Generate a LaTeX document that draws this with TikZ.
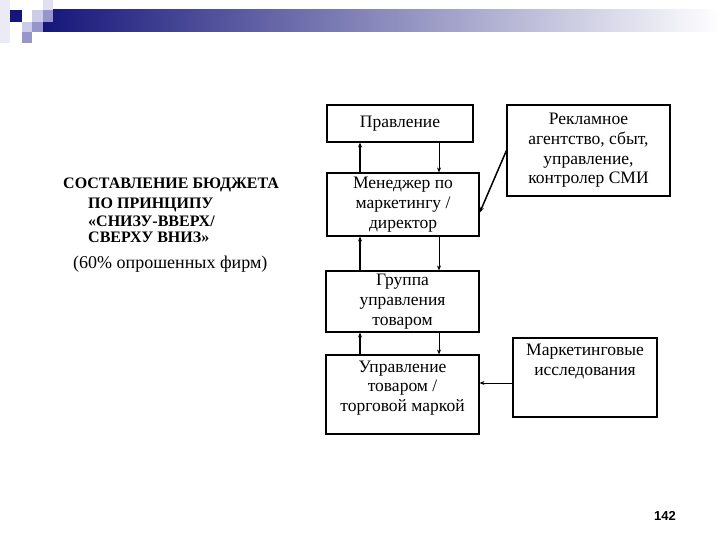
\documentclass[tikz,border=0pt]{standalone}
\usepackage{fontspec}
\setmainfont{Liberation Serif}
\newfontfamily\boxfont{Liberation Serif}
\newfontfamily\numfont{Liberation Sans}
\usepackage{xcolor}
\usetikzlibrary{arrows.meta, calc}

\definecolor{navyblue}{RGB}{22,22,122}
\definecolor{lightlav}{RGB}{204,204,232}
\definecolor{midlav}{RGB}{150,150,204}

\begin{document}
\begin{tikzpicture}[
    x=1pt, y=-1pt,
    block/.style={rectangle, draw, line width=1.1pt, inner sep=0pt, align=center, font=\boxfont\fontsize{17.5}{19.7}\selectfont},
    heading/.style={anchor=base west, inner sep=0pt, font=\bfseries\fontsize{16}{18}\selectfont},
    note/.style={anchor=base west, inner sep=0pt, font=\boxfont\fontsize{18}{19.7}\selectfont},
    up/.style={-{Stealth[length=5pt,width=4pt]}, line width=2pt},
    down/.style={-{Stealth[length=5pt,width=4pt]}, line width=0.9pt},
    slant/.style={-{Stealth[length=6pt,width=4pt]}, line width=1.5pt}
]
    \useasboundingbox (0,0) rectangle (720,540);

    % header bar
    \fill[lightlav!40] (0,0) rectangle (10,43);
    \shade[left color=navyblue, right color=white] (43,10) rectangle (720,32);
    \fill[navyblue] (10,10) rectangle (22,22);
    \fill[lightlav!60] (43,0) rectangle (53,10);
    \fill[lightlav] (32,10) rectangle (43,22);
    \fill[midlav] (43,10) rectangle (53,22);
    \fill[lightlav] (22,22) rectangle (32,32);
    \fill[midlav] (32,22) rectangle (43,32);
    \fill[midlav] (22,32) rectangle (32,43);

    % left caption
    \node[heading] (title1) at (63,189) {СОСТАВЛЕНИЕ БЮДЖЕТА};
    \node[heading] (title2) at (88,208) {ПО ПРИНЦИПУ};
    \node[heading] (title3) at (88,226) {«СНИЗУ-ВВЕРХ/};
    \node[heading] (title4) at (88,243) {СВЕРХУ ВНИЗ»};
    \node[note] (survey) at (73,268) {(60\% опрошенных фирм)};

    % blocks
    \node[block, minimum width=146, minimum height=37] (pravl) at (400,123.5) {Правление};
    \node[block, minimum width=152, minimum height=63] (manager) at (403,204.5) {Менеджер по\\маркетингу /\\директор};
    \node[block, minimum width=163, minimum height=91] (reklama) at (588.5,150.5) {Рекламное\\агентство, сбыт,\\управление,\\контролер СМИ};
    \node[block, minimum width=153, minimum height=61] (gruppa) at (402.5,301.5) {Группа\\управления\\товаром};
    \node[block, minimum width=153, minimum height=79, text depth=17pt] (upravl) at (402.5,394.5) {Управление\\товаром /\\торговой маркой};
    \node[block, minimum width=144, minimum height=79, text depth=36pt] (issled) at (585,377.5) {Маркетинговые\\исследования};

    \coordinate (lx) at (360,0);
    \coordinate (rx) at (439,0);

    % links
    \draw[up] (manager.north -| lx) -- (pravl.south -| lx);
    \draw[down] (pravl.south -| rx) -- (manager.north -| rx);
    \draw[up] (gruppa.north -| lx) -- (manager.south -| lx);
    \draw[down] (manager.south -| rx) -- (gruppa.north -| rx);
    \draw[up] (upravl.north -| lx) -- (gruppa.south -| lx);
    \draw[down] (gruppa.south -| rx) -- (upravl.north -| rx);
    \draw[slant] (reklama.west) -- ([yshift=-8.5pt]manager.east);
    \draw[down] ([yshift=-5.5pt]issled.west) -- ([yshift=-5.5pt]issled.west -| upravl.east);

    \node[font=\numfont\bfseries\fontsize{13}{15}\selectfont, inner sep=0pt] (page) at (665,516) {142};
\end{tikzpicture}
\end{document}
